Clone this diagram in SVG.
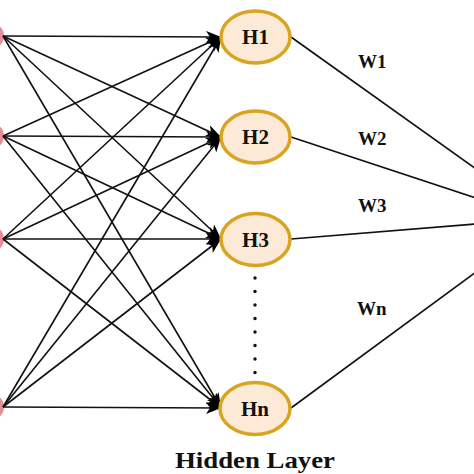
<svg xmlns="http://www.w3.org/2000/svg" width="474" height="474" viewBox="0 0 474 474">
<defs>
<marker id="arr" markerUnits="userSpaceOnUse" markerWidth="16" markerHeight="12" refX="15" refY="6" orient="auto">
<path d="M0,0 L15,6 L0,12 L4,6 Z" fill="#000"/>
</marker>
<style>
.c{stroke:#111;stroke-width:1.6;fill:none}
.a{marker-end:url(#arr)}
.hn ellipse{fill:#FCE9D6;stroke:#D9A520;stroke-width:3.5}
.hn text{font-family:"Liberation Serif",serif;font-weight:bold;font-size:21px;fill:#111;text-anchor:middle}
.in circle{fill:#E0707E;opacity:0.8}
.w{font-family:"Liberation Serif",serif;font-weight:bold;font-size:19px;fill:#111}
</style>
</defs>
<rect width="474" height="474" fill="#fff"/>
<g id="inputs" class="in">
<circle id="I1" cx="-9" cy="36" r="13"/>
<circle id="I2" cx="-9" cy="136" r="13"/>
<circle id="I3" cx="-9" cy="239" r="13"/>
<circle id="I4" cx="-9" cy="407" r="13"/>
</g>
<g id="connectors">
<g class="c a">
<line x1="3" y1="36" x2="221" y2="37"/>
<line x1="3" y1="36" x2="221" y2="137"/>
<line x1="3" y1="36" x2="221" y2="239"/>
<line x1="3" y1="36" x2="221" y2="408"/>
<line x1="3" y1="136" x2="221" y2="37"/>
<line x1="3" y1="136" x2="221" y2="137"/>
<line x1="3" y1="136" x2="221" y2="239"/>
<line x1="3" y1="136" x2="221" y2="408"/>
<line x1="3" y1="239" x2="221" y2="37"/>
<line x1="3" y1="239" x2="221" y2="137"/>
<line x1="3" y1="239" x2="221" y2="239"/>
<line x1="3" y1="239" x2="221" y2="408"/>
<line x1="3" y1="407" x2="221" y2="37"/>
<line x1="3" y1="407" x2="221" y2="137"/>
<line x1="3" y1="407" x2="221" y2="239"/>
<line x1="3" y1="407" x2="221" y2="408"/>
</g>
<g class="c">
<line x1="291" y1="37" x2="476" y2="169"/>
<line x1="291" y1="137" x2="476" y2="198"/>
<line x1="291" y1="239" x2="476" y2="224"/>
<line x1="291" y1="408" x2="476" y2="272"/>
</g>
<g id="dots" fill="#111">
<circle cx="255" cy="278" r="1.7"/>
<circle cx="255" cy="291.5" r="1.7"/>
<circle cx="255" cy="305" r="1.7"/>
<circle cx="255" cy="318.5" r="1.7"/>
<circle cx="255" cy="332" r="1.7"/>
<circle cx="255" cy="345.5" r="1.7"/>
<circle cx="255" cy="359" r="1.7"/>
<circle cx="255" cy="372.5" r="1.7"/>
</g>
</g>
<g id="H1" class="hn"><ellipse cx="255.5" cy="37" rx="34.5" ry="26"/><text x="255.5" y="44">H1</text></g>
<g id="H2" class="hn"><ellipse cx="255.5" cy="137" rx="34.5" ry="26"/><text x="255.5" y="144">H2</text></g>
<g id="H3" class="hn"><ellipse cx="255.5" cy="239.5" rx="34.5" ry="26"/><text x="255.5" y="246.5">H3</text></g>
<g id="Hn" class="hn"><ellipse cx="255" cy="408.5" rx="35" ry="26"/><text x="255" y="415.5">Hn</text></g>
<g id="labels">
<text class="w" x="358" y="68">W1</text>
<text class="w" x="358" y="145">W2</text>
<text class="w" x="358" y="212">W3</text>
<text class="w" x="357" y="315">Wn</text>
<text x="175" y="468" textLength="160" lengthAdjust="spacingAndGlyphs" style="font-family:'Liberation Serif',serif;font-weight:bold;font-size:24px;fill:#111">Hidden Layer</text>
</g>
</svg>
